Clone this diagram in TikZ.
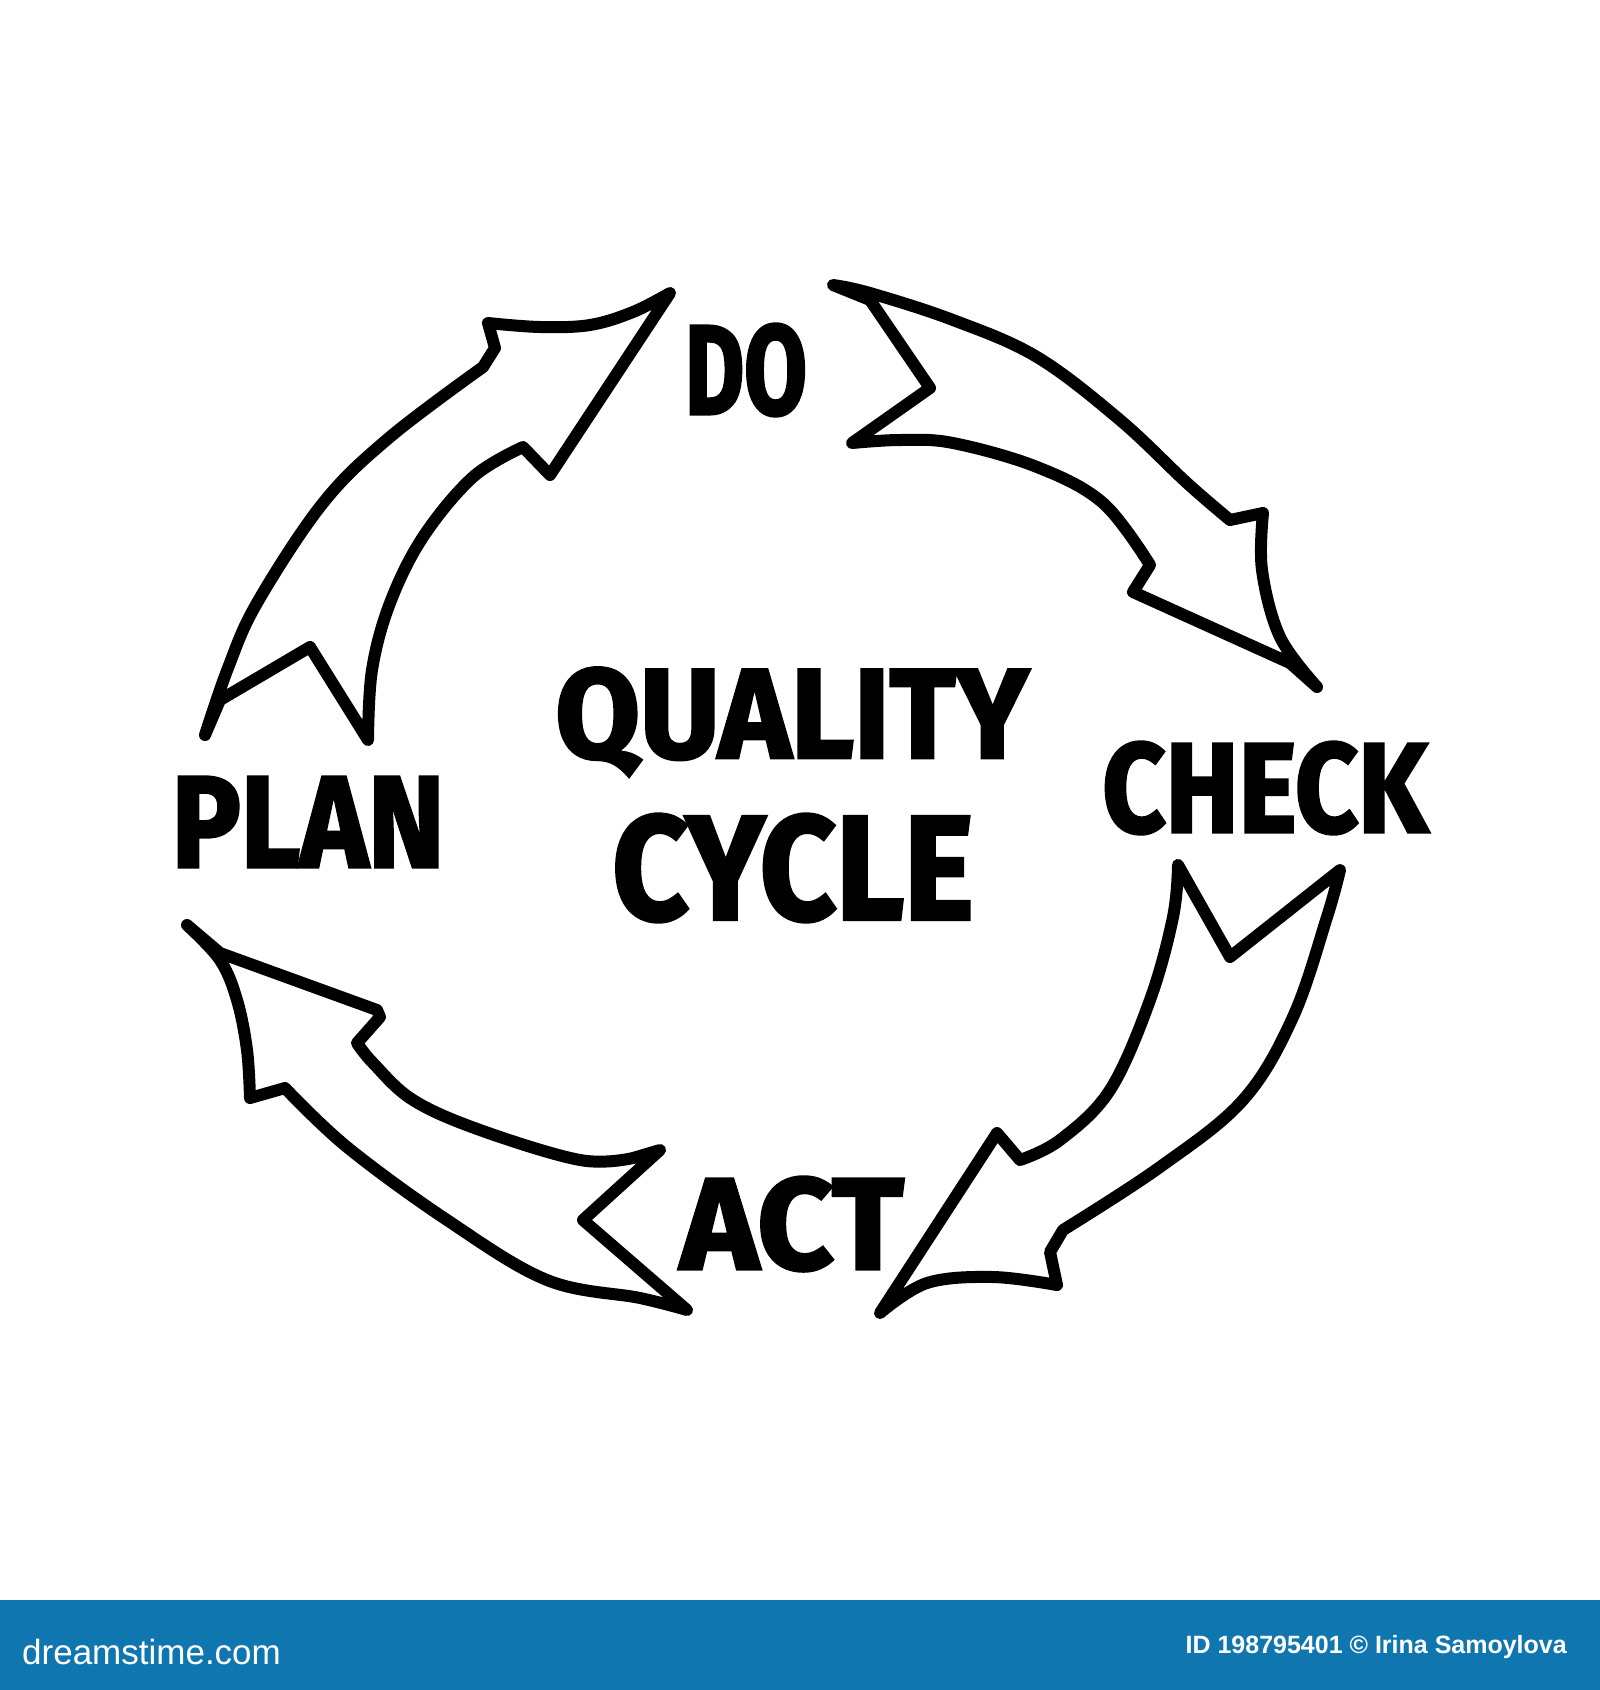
\documentclass[tikz,border=0pt]{standalone}
\usepackage{fontspec}
\usepackage{graphicx}
\setmainfont{Fira Sans}[BoldFeatures={FakeBold=2.5}]
\newfontfamily\barfont{Liberation Sans}
\usetikzlibrary{calc}
\definecolor{barblue}{RGB}{16,118,176}
\newcommand{\fitword}[3]{\resizebox{#1pt}{#2pt}{\bfseries #3}}
\tikzset{
  arrowshape/.style={draw=black, line width=12pt, line join=round, line cap=round, fill=white},
  word/.style={inner sep=0pt, outer sep=0pt, anchor=center, text=black},
  bartext/.style={inner sep=0pt, text=white, font=\barfont}
}
\begin{document}
\begin{tikzpicture}[x=1pt,y=-1pt]
\useasboundingbox (0,0) rectangle (1600,1690);
\fill[white] (0,0) rectangle (1600,1690);

% PLAN -> DO arrow (top left)
\draw[arrowshape] (205,735)
  -- plot[smooth, tension=0.6] coordinates {(205,735) (228,668) (257,603) (323,503) (390,437) (483,367)}
  -- (495,348) -- (488,323)
  -- plot[smooth, tension=0.6] coordinates {(488,323) (540,327) (590,325) (633,312) (670,293)}
  -- (550,475) -- (523,447)
  -- plot[smooth, tension=0.6] coordinates {(523,447) (473,477) (423,537) (390,603) (372,670) (368,740)}
  -- (310,647) -- (220,700) -- cycle;

% DO -> CHECK arrow (top right)
\draw[arrowshape] (833,285)
  -- plot[smooth, tension=0.6] coordinates {(833,285) (870,293) (953,320) (1037,357) (1120,420) (1187,483) (1230,520)}
  -- (1263,513)
  -- plot[smooth, tension=0.6] coordinates {(1263,513) (1262,570) (1280,637) (1317,687)}
  -- (1290,663) -- (1133,592) -- (1150,565)
  -- plot[smooth, tension=0.6] coordinates {(1150,565) (1103,503) (1037,467) (953,443) (900,440) (852,443)}
  -- (930,388) -- (870,300) -- cycle;

% CHECK -> ACT arrow (bottom right)
\draw[arrowshape] (1178,865)
  -- (1230,957) -- (1340,870)
  -- plot[smooth, tension=0.6] coordinates {(1340,870) (1327,917) (1293,1017) (1243,1100) (1160,1167) (1063,1230)}
  -- (1050,1252) -- (1057,1285)
  -- plot[smooth, tension=0.6] coordinates {(1057,1285) (993,1277) (927,1283) (880,1313)}
  -- (997,1133) -- (1020,1160)
  -- plot[smooth, tension=0.6] coordinates {(1020,1160) (1060,1140) (1110,1090) (1150,1000) (1173,917) (1178,865)}
  -- cycle;

% ACT -> PLAN arrow (bottom left)
\draw[arrowshape] (187,925)
  -- (220,953) -- (377,1010) -- (380,1017) -- (357,1043)
  -- plot[smooth, tension=0.6] coordinates {(357,1043) (373,1063) (413,1100) (480,1130) (580,1160) (633,1158)}
  -- (660,1150) -- (583,1220) -- (687,1310)
  -- plot[smooth, tension=0.6] coordinates {(687,1310) (640,1298) (547,1280) (447,1220) (347,1147) (285,1088)}
  -- (250,1098)
  -- plot[smooth, tension=0.6] coordinates {(250,1098) (247,1050) (237,1000) (220,960) (187,925)}
  -- cycle;

% labels
\node[word] (do)      at (746,370)  {\fitword{122}{90}{DO}};
\node[word] (check)   at (1265,788) {\fitword{325}{90}{CHECK}};
\node[word] (act)     at (792,1224) {\fitword{223}{92}{ACT}};
\node[word] (plan)    at (308,822)  {\fitword{273}{90}{PLAN}};
\node[word] (quality) at (792,722)  {\fitword{473}{90}{QUALITY}};
\node[word] (cycle)   at (793,868)  {\fitword{361}{105}{CYCLE}};

% footer bar
\fill[barblue] (0,1600) rectangle (1600,1690);
\node[bartext, anchor=west, font=\barfont\fontsize{35}{37}\selectfont] (logo) at (22,1652) {dreamstime.com};
\node[bartext, anchor=east, font=\barfont\bfseries\fontsize{25}{28}\selectfont] (credit) at (1567,1647) {ID 198795401 © Irina Samoylova};
\end{tikzpicture}
\end{document}
